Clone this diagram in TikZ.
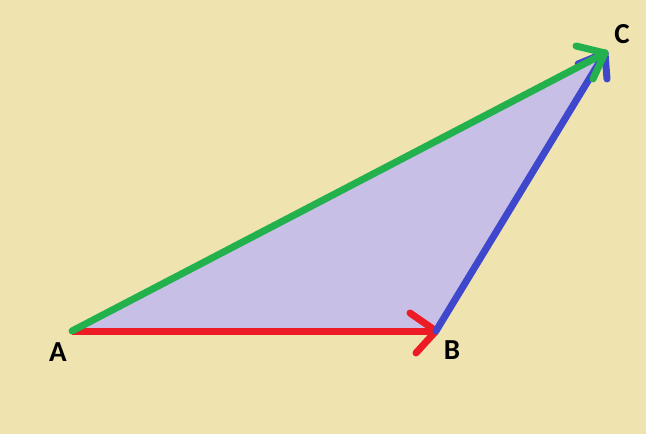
\documentclass[tikz,border=0pt]{standalone}
\usepackage{fontspec}
\setmainfont{Carlito}
\definecolor{bg}{RGB}{239,228,176}
\definecolor{lav}{RGB}{200,191,231}
\definecolor{pred}{RGB}{237,28,36}
\definecolor{pblue}{RGB}{63,72,204}
\definecolor{pgreen}{RGB}{34,177,76}
\tikzset{
  vec/.style={line width=7pt, line cap=round, line join=round},
  lbl/.style={font=\fontsize{29}{29}\selectfont\bfseries, inner sep=0pt}
}
\begin{document}
\begin{tikzpicture}[x=1pt,y=-1pt]
\fill[bg] (0,0) rectangle (646,434);
\useasboundingbox (0,0) rectangle (646,434);
\coordinate (A) at (72,331);
\coordinate (B) at (436,331);
\coordinate (C) at (605,53);
\fill[lav] (A) -- (B) -- (C) -- cycle;
% red A->B
\draw[vec, pred, line cap=butt] (A) -- (B);
\coordinate (rb1) at (410,313);
\coordinate (rb2) at (416,353);
\draw[vec, pred] (rb1) -- (B) -- (rb2);
% blue B->C
\draw[vec, pblue] (B) -- (C);
\coordinate (bb1) at (578,64);
\coordinate (bb2) at (607,79);
\draw[vec, pblue] (bb1) -- (C) -- (bb2);
% green A->C
\draw[vec, pgreen] (A) -- (C);
\coordinate (gb1) at (576,46);
\coordinate (gb2) at (593,79);
\draw[vec, pgreen] (gb1) -- (C) -- (gb2);
\node[lbl] (la) at (58,352) {A};
\node[lbl] (lb) at (452,350) {B};
\node[lbl] (lc) at (622,34) {C};
\end{tikzpicture}
\end{document}
